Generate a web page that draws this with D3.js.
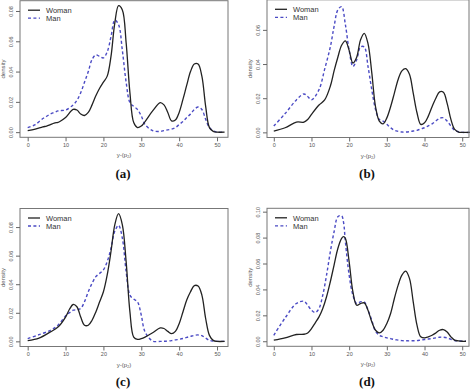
<!DOCTYPE html>
<html>
<head>
<meta charset="utf-8">
<script src="https://cdn.jsdelivr.net/npm/d3@7"></script>
<style>
  body { margin: 0; background: #fff; }
  svg { display: block; }
</style>
</head>
<body>
<script>
// ---------------- data: density curves ----------------
var xA = [0,2,4,5,6,7,8,8.5,10,12,13,14,15,16,17,18,19,20,21,22,23,24,25,26,27,28,29,30,31,33,35,36,37,38,39,40,41,42,43,44,45,46,47,48,49,50,52];
var womanA = [0.001,0.002,0.0035,0.004,0.005,0.006,0.0065,0.007,0.0096,0.015,0.0146,0.012,0.011,0.013,0.018,0.024,0.029,0.033,0.037,0.050,0.072,0.0835,0.0807,0.059,0.026,0.0063,0.003,0.004,0.007,0.014,0.0195,0.018,0.013,0.0074,0.008,0.013,0.0216,0.031,0.040,0.045,0.045,0.037,0.017,0.003,0.0005,0,0];
var manA = [0.003,0.005,0.009,0.0105,0.012,0.013,0.014,0.0142,0.0146,0.018,0.021,0.026,0.033,0.040,0.048,0.051,0.050,0.049,0.053,0.063,0.074,0.071,0.054,0.033,0.0195,0.017,0.015,0.0107,0.005,0.001,0.0005,0.001,0.0015,0.002,0.003,0.005,0.007,0.0096,0.012,0.015,0.0166,0.015,0.0085,0.003,0.001,0,0];

var xB = [0,3,6,8,9,10,12,13.5,15,16,17,18,19,20,21,22,23,24,25,26,27,28,29,30,31,32,33,34,35,36,37,38,39,40,41,42,43,44,45,46,47,48,49,50,52];
var womanB = [0.0008,0.0027,0.006,0.006,0.0075,0.0105,0.016,0.019,0.027,0.036,0.044,0.051,0.0536,0.048,0.0406,0.044,0.054,0.058,0.052,0.035,0.015,0.0066,0.005,0.0085,0.015,0.023,0.031,0.036,0.0373,0.034,0.023,0.0115,0.0047,0.0056,0.0095,0.015,0.020,0.0237,0.0235,0.017,0.0076,0.0017,0.0002,0,0];
var manB = [0.0037,0.011,0.019,0.0225,0.021,0.019,0.025,0.037,0.050,0.062,0.0717,0.0736,0.063,0.048,0.0386,0.0425,0.050,0.050,0.0386,0.025,0.0134,0.0076,0.0066,0.0047,0.0027,0.0012,0.0006,0.0002,0.0002,0.0004,0.0008,0.0012,0.002,0.0027,0.0038,0.005,0.0067,0.0083,0.0085,0.0066,0.0037,0.0012,0.0004,0,0];

var xC = [0,3,6,8,10,11,12,13,14,15,16,17,18,19,20,21,22,23,24,25,26,27,28,29,30,31,33,35,36,37,38,39,40,41,42,43,44,45,46,47,48,49,50,52];
var womanC = [0.0005,0.0023,0.0066,0.010,0.017,0.0223,0.0258,0.0242,0.017,0.0113,0.0113,0.0148,0.0206,0.0277,0.0347,0.0465,0.0629,0.0816,0.0894,0.0816,0.0558,0.0206,0.003,0.0014,0.0019,0.003,0.006,0.0094,0.009,0.007,0.0054,0.007,0.0124,0.0206,0.0289,0.0347,0.039,0.0387,0.0324,0.016,0.0042,0.0007,0,0];
var manC = [0.0019,0.0047,0.0077,0.0113,0.0178,0.020,0.0218,0.0222,0.023,0.0277,0.0347,0.0406,0.0453,0.0476,0.050,0.0558,0.0652,0.077,0.0812,0.0722,0.0488,0.0324,0.0296,0.0277,0.0183,0.0066,0.0002,0,0.0001,0.0002,0.0005,0.001,0.0014,0.002,0.0028,0.0035,0.0042,0.0045,0.004,0.0023,0.0007,0.0002,0,0];

var xD = [0,3,6,8,9,10,11,12,13,14,15,16,17,18,18.5,19,20,21,22,23,24,25,26,27,28,29,30,31,32,33,34,35,36,37,38,39,40,41,42,43,44,45,46,47,48,49,50,51];
var womanD = [0.0008,0.0026,0.0052,0.0054,0.0064,0.0098,0.0142,0.0188,0.0253,0.0343,0.0459,0.0588,0.0716,0.0794,0.0807,0.0794,0.0613,0.0381,0.0278,0.0291,0.0296,0.024,0.015,0.0085,0.0064,0.0085,0.0137,0.0214,0.033,0.0433,0.051,0.0541,0.0485,0.0304,0.0124,0.0034,0.0026,0.0034,0.0046,0.0064,0.0085,0.009,0.0072,0.0034,0.0008,0.0003,0,0];
var manD = [0.0046,0.018,0.0291,0.0309,0.0278,0.024,0.0222,0.0253,0.0356,0.051,0.069,0.0845,0.0961,0.0969,0.092,0.0768,0.051,0.0356,0.0291,0.0304,0.0304,0.024,0.0162,0.0077,0.0046,0.0035,0.0026,0.002,0.0013,0.0009,0.0005,0.0004,0.0003,0.0004,0.0005,0.0009,0.0013,0.0017,0.0021,0.0026,0.0031,0.0031,0.0026,0.0015,0.0005,0.0002,0,0];

var seriesNames = ['Woman', 'Man'];
var xTicks = [0, 10, 20, 30, 40, 50];
var yTicksA = [0, 0.02, 0.04, 0.06, 0.08];
var yTicksB = [0, 0.02, 0.04, 0.06];
var yTicksC = [0, 0.02, 0.04, 0.06, 0.08];
var yTicksD = [0, 0.02, 0.04, 0.06, 0.08, 0.10];
var panelTags = ['(a)', '(b)', '(c)', '(d)'];

// ---------------- layout ----------------
var width = 474, height = 389;
var womanColor = '#222', manColor = '#4a4ac4';

var panels = [
  {x: xA, w: womanA, m: manA, yt: yTicksA, tag: panelTags[0],
   left: 20, right: 228, top: 0.7, bottom: 137.3, xdom: [-2.03, 52.9], ydom: [-0.0034, 0.0868]},
  {x: xB, w: womanB, m: manB, yt: yTicksB, tag: panelTags[1],
   left: 267, right: 469, top: -0.2, bottom: 137.5, xdom: [-1.8, 51.8], ydom: [-0.003, 0.0776]},
  {x: xC, w: womanC, m: manC, yt: yTicksC, tag: panelTags[2],
   left: 20, right: 228, top: 208.5, bottom: 346.5, xdom: [-2.03, 52.9], ydom: [-0.0036, 0.093]},
  {x: xD, w: womanD, m: manD, yt: yTicksD, tag: panelTags[3],
   left: 267, right: 469, top: 208.3, bottom: 346.3, xdom: [-1.8, 51.8], ydom: [-0.0039, 0.1026]}
];

var svg = d3.select('body').append('svg')
    .attr('width', width)
    .attr('height', height);

panels.forEach(function (p, k) {
    var x = d3.scaleLinear().domain(p.xdom).range([p.left, p.right]);
    var y = d3.scaleLinear().domain(p.ydom).range([p.bottom, p.top]);
    var g = svg.append('g');

    var line = d3.line()
        .x(function (d) { return x(d[0]); })
        .y(function (d) { return y(d[1]); })
        .curve(d3.curveCatmullRom.alpha(0.5));

    // curves
    g.append('path')
        .datum(d3.zip(p.x, p.m))
        .attr('fill', 'none')
        .attr('stroke', manColor)
        .attr('stroke-width', 1.4)
        .attr('stroke-dasharray', '3,2.4')
        .attr('d', line);
    g.append('path')
        .datum(d3.zip(p.x, p.w))
        .attr('fill', 'none')
        .attr('stroke', womanColor)
        .attr('stroke-width', 1.3)
        .attr('d', line);

    // box
    g.append('rect')
        .attr('x', p.left).attr('y', p.top)
        .attr('width', p.right - p.left).attr('height', p.bottom - p.top)
        .attr('fill', 'none')
        .attr('stroke', '#777')
        .attr('stroke-width', 1);

    // x axis
    var xAxis = d3.axisBottom(x).tickValues(xTicks).tickSize(4).tickPadding(2)
        .tickFormat(d3.format('d'));
    var xg = g.append('g').attr('transform', 'translate(0,' + p.bottom + ')').call(xAxis);
    xg.select('.domain').remove();

    // y axis, labels turned to run along the axis
    var yAxis = d3.axisLeft(y).tickValues(p.yt).tickSize(4).tickPadding(2)
        .tickFormat(d3.format('.2f'));
    var yg = g.append('g').attr('transform', 'translate(' + p.left + ',0)').call(yAxis);
    yg.select('.domain').remove();
    yg.selectAll('text')
        .attr('x', -7)
        .attr('y', 0)
        .attr('dy', 0)
        .attr('text-anchor', 'middle')
        .attr('transform', 'rotate(-90,-7,0)');

    [xg, yg].forEach(function (a) {
        a.selectAll('line').attr('stroke', '#666');
        a.selectAll('text')
            .attr('fill', '#555')
            .attr('font-family', 'Liberation Sans, Arial, sans-serif')
            .attr('font-size', 5.5);
    });

    // axis titles
    var cx = (p.left + p.right) / 2;
    g.append('text')
        .attr('x', cx).attr('y', p.bottom + 20)
        .attr('text-anchor', 'middle')
        .attr('font-family', 'Liberation Sans, Arial, sans-serif')
        .attr('font-size', 6).attr('fill', '#555')
        .text('y-(p\u2082)');
    var cy = (p.top + p.bottom) / 2;
    g.append('text')
        .attr('transform', 'translate(' + (p.left - 15) + ',' + cy + ') rotate(-90)')
        .attr('text-anchor', 'middle')
        .attr('font-family', 'Liberation Sans, Arial, sans-serif')
        .attr('font-size', 6).attr('fill', '#555')
        .text('density');

    // legend
    var lx = p.left + 8, ly = p.top + 9.5;
    seriesNames.forEach(function (name, j) {
        var yy = ly + j * 8;
        g.append('line')
            .attr('x1', lx).attr('x2', lx + 12)
            .attr('y1', yy).attr('y2', yy)
            .attr('stroke', j === 0 ? womanColor : manColor)
            .attr('stroke-width', 1.3)
            .attr('stroke-dasharray', j === 0 ? null : '3,2.4');
        g.append('text')
            .attr('x', lx + 18).attr('y', yy + 2.7)
            .attr('font-family', 'Liberation Sans, Arial, sans-serif')
            .attr('font-size', 7.5).attr('fill', '#333')
            .text(name);
    });

    // panel tag
    g.append('text')
        .attr('x', cx - 1).attr('y', k < 2 ? 177.5 : 386)
        .attr('text-anchor', 'middle')
        .attr('font-family', 'Liberation Serif, Times New Roman, serif')
        .attr('font-weight', 'bold')
        .attr('font-size', 13)
        .attr('fill', '#111')
        .text(p.tag);
});
</script>
</body>
</html>
